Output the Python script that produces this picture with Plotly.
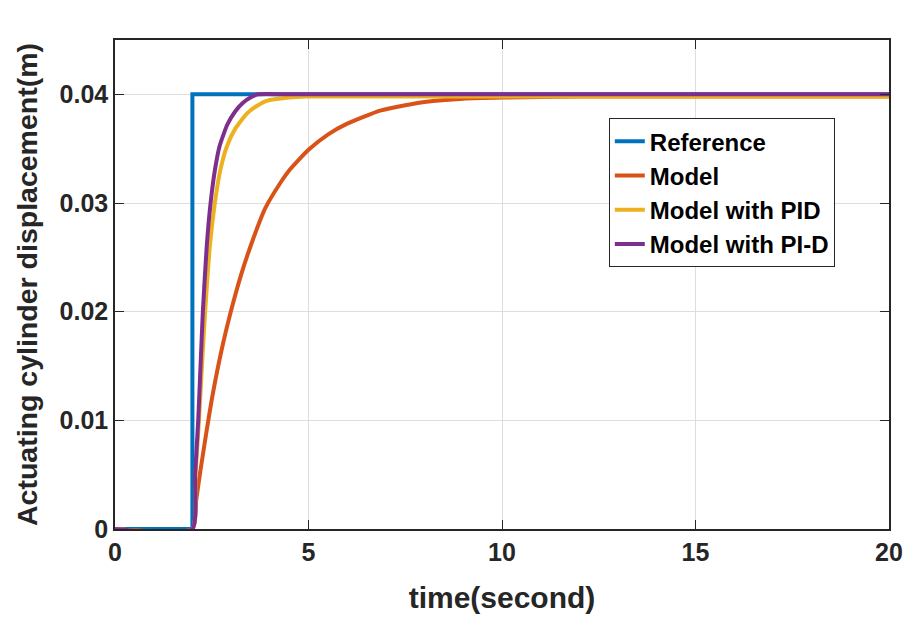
import plotly.graph_objects as go

# Data
ref_t = [0, 2, 2, 20]
ref_y = [0, 0, 0.04, 0.04]

model_t = [0, 2, 2.1, 2.2, 2.37, 2.5, 2.75, 3.0, 3.25, 3.5, 3.88, 4.3, 4.5, 5, 5.5, 6,
           6.85, 7.5, 8, 9, 10, 12, 15, 20]
model_y = [0, 0, 0.0027, 0.0052, 0.0091, 0.0119, 0.0164, 0.0201, 0.0233, 0.0260, 0.0295,
           0.0320, 0.0330, 0.0349, 0.0363, 0.0373, 0.0385, 0.0390, 0.0393, 0.0396, 0.0397,
           0.0398, 0.0398, 0.0398]

pid_t = [0, 2, 2.08, 2.17, 2.25, 2.33, 2.45, 2.58, 2.72, 2.89, 3.1, 3.4, 3.65, 3.92, 4.5,
         4.95, 6, 9, 20]
pid_y = [0, 0, 0.005, 0.010, 0.0152, 0.020, 0.026, 0.030, 0.0330, 0.0352, 0.0368, 0.0382,
         0.0389, 0.0394, 0.0397, 0.0398, 0.0398, 0.0398, 0.0398]

pid2_t = [0, 2, 2.07, 2.15, 2.21, 2.27, 2.37, 2.47, 2.58, 2.70, 2.9, 3.10, 3.3, 3.5, 3.7,
          4.5, 20]
pid2_y = [0, 0, 0.005, 0.010, 0.015, 0.020, 0.026, 0.030, 0.0330, 0.0352, 0.0372, 0.0384,
          0.0392, 0.0397, 0.0400, 0.0400, 0.0400]

names = ["Reference", "Model", "Model with PID", "Model with PI-D"]
colors = ["#0072BD", "#D95319", "#EDB120", "#7E2F8E"]
x_ticks = [0, 5, 10, 15, 20]
y_ticks = [0, 0.01, 0.02, 0.03, 0.04]
y_tick_text = ["0", "0.01", "0.02", "0.03", "0.04"]

fig = go.Figure()
for i, (t, y, n, c) in enumerate(zip([ref_t, model_t, pid_t, pid2_t],
                                     [ref_y, model_y, pid_y, pid2_y], names, colors)):
    line = dict(color=c, width=4, shape="linear") if i == 0 else \
        dict(color=c, width=4, shape="spline", smoothing=0.5)
    fig.add_trace(go.Scatter(x=t, y=y, mode="lines", name=n, line=line))

tick_font = dict(family="Liberation Sans, Arial", size=25, color="#262626", weight="bold")
axis_common = dict(showgrid=True, gridcolor="#DEDEDE", gridwidth=1, zeroline=False,
                   showline=True, linecolor="#262626", linewidth=1.5, mirror="allticks",
                   ticks="inside", ticklen=9, tickwidth=1.2, tickcolor="#262626", tickfont=tick_font)

fig.update_xaxes(range=[0, 20], tickvals=x_ticks, **axis_common,
                 title=dict(text="time(second)", standoff=22,
                            font=dict(family="Liberation Sans, Arial", size=30,
                                      color="#262626", weight="bold")))
fig.update_yaxes(range=[0, 0.045], tickvals=y_ticks, ticktext=y_tick_text, **axis_common,
                 title=dict(text="Actuating cylinder displacement(m)", standoff=14,
                            font=dict(family="Liberation Sans, Arial", size=28.5,
                                      color="#262626", weight="bold")))

fig.update_layout(
    width=923, height=635,
    margin=dict(l=115, r=34, t=40, b=106),
    paper_bgcolor="white", plot_bgcolor="white",
    showlegend=True,
    legend=dict(x=0.638, y=0.84, xanchor="left", yanchor="top",
                bgcolor="white", bordercolor="#262626", borderwidth=1,
                font=dict(family="Liberation Sans, Arial", size=24, color="black", weight="bold"),
                tracegroupgap=0),
)

fig.write_html("out.html")
